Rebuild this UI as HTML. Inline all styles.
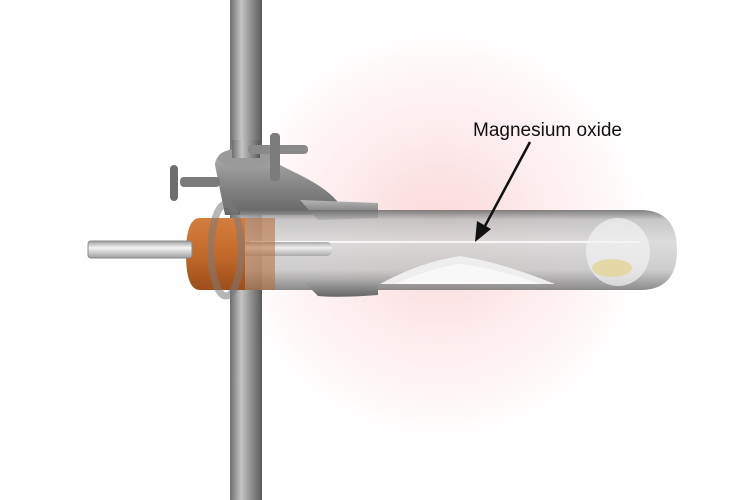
<!DOCTYPE html>
<html><head><style>html,body{margin:0;padding:0;background:#fff}svg{display:block}</style></head><body>
<svg width="750" height="500" viewBox="0 0 750 500" xmlns="http://www.w3.org/2000/svg">
<defs>
<radialGradient id="glow" cx="440" cy="235" r="210" gradientUnits="userSpaceOnUse">
<stop offset="0" stop-color="#fbd6d7"/><stop offset="0.5" stop-color="#fdeced"/><stop offset="1" stop-color="#fff"/>
</radialGradient>
<linearGradient id="rod" x1="0" x2="1" y1="0" y2="0">
<stop offset="0" stop-color="#6e6e6e"/><stop offset="0.35" stop-color="#c4c4c4"/><stop offset="0.6" stop-color="#9a9a9a"/><stop offset="1" stop-color="#5a5a5a"/>
</linearGradient>
<linearGradient id="tube" x1="0" x2="0" y1="0" y2="1">
<stop offset="0" stop-color="#6a6a6a"/><stop offset="0.12" stop-color="#bdbdbd"/><stop offset="0.4" stop-color="#d6d6d6"/><stop offset="0.75" stop-color="#c4c4c4"/><stop offset="1" stop-color="#777"/>
</linearGradient>
<linearGradient id="metal" x1="0" x2="0" y1="0" y2="1">
<stop offset="0" stop-color="#b5b5b5"/><stop offset="0.5" stop-color="#8a8a8a"/><stop offset="1" stop-color="#666"/>
</linearGradient>
<linearGradient id="cork" x1="0" x2="0" y1="0" y2="1">
<stop offset="0" stop-color="#d37f3f"/><stop offset="0.5" stop-color="#c4692a"/><stop offset="1" stop-color="#9c4e1a"/>
</linearGradient>
<linearGradient id="grod" x1="0" x2="0" y1="0" y2="1">
<stop offset="0" stop-color="#9a9a9a"/><stop offset="0.4" stop-color="#f4f4f4"/><stop offset="1" stop-color="#a0a0a0"/>
</linearGradient>
</defs>
<rect width="750" height="500" fill="#fff"/>
<circle cx="440" cy="235" r="210" fill="url(#glow)"/>
<rect x="230" y="0" width="32" height="500" fill="url(#rod)"/>
<path d="M215 165 Q215 150 245 148 Q275 150 280 165 L300 175 Q330 190 340 205 L320 215 L225 215 Z" fill="url(#metal)"/>
<ellipse cx="246" cy="158" rx="28" ry="10" fill="#9a9a9a"/>
<rect x="232" y="140" width="28" height="18" fill="url(#rod)"/>
<rect x="180" y="177" width="40" height="10" rx="4" fill="#7a7a7a"/>
<rect x="170" y="165" width="8" height="36" rx="4" fill="#6f6f6f"/>
<rect x="248" y="145" width="60" height="9" rx="4" fill="#8a8a8a"/>
<rect x="270" y="133" width="10" height="48" rx="4" fill="#7c7c7c"/>
<path d="M300 200 L378 203 L378 218 L318 220 Z" fill="url(#metal)"/>
<path d="M240 210 L640 210 Q677 210 677 250 Q677 290 640 290 L240 290 Z" fill="url(#tube)" opacity="0.85"/>
<line x1="250" y1="242" x2="640" y2="242" stroke="#fff" stroke-width="2" opacity="0.8"/>
<path d="M380 284 Q420 262 460 256 Q500 262 555 284 Z" fill="#eeeeee"/>
<path d="M395 284 Q430 268 460 264 Q495 268 540 284 Z" fill="#f8f8f8"/>
<ellipse cx="618" cy="252" rx="32" ry="34" fill="#f2f2f2" opacity="0.7"/>
<ellipse cx="612" cy="268" rx="20" ry="9" fill="#e3d79e" opacity="0.9"/>
<path d="M300 278 L378 280 L378 295 Q340 298 318 296 Z" fill="url(#metal)"/>
<rect x="240" y="242" width="92" height="14" rx="5" fill="url(#grod)" opacity="0.8"/>
<path d="M200 218 L245 218 L245 290 L200 290 Q186 290 186 254 Q186 218 200 218 Z" fill="url(#cork)"/>
<rect x="245" y="218" width="30" height="72" fill="#b86a35" opacity="0.55"/>
<ellipse cx="226" cy="250" rx="15" ry="46" fill="none" stroke="#7a7a7a" stroke-width="7" opacity="0.55"/>
<rect x="88" y="241" width="104" height="17" rx="3" fill="url(#grod)" stroke="#888" stroke-width="1"/>
<text x="473" y="136" font-family="Liberation Sans, sans-serif" font-size="19" fill="#111" textLength="149">Magnesium oxide</text>
<line x1="530" y1="142" x2="485" y2="226" stroke="#111" stroke-width="2.5"/>
<path d="M475 242 L477 221 L491 229 Z" fill="#111"/>
</svg>
</body></html>
